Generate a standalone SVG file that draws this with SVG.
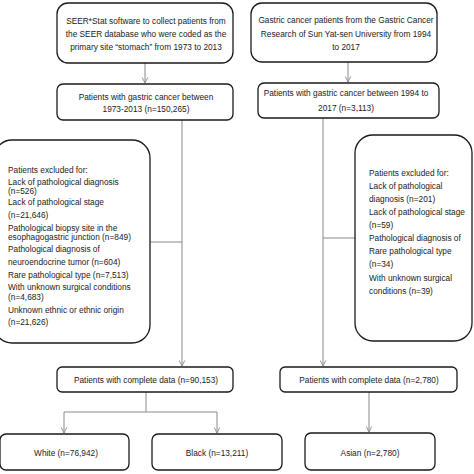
<svg xmlns="http://www.w3.org/2000/svg" width="474" height="474" viewBox="0 0 474 474">
<style>
.box{fill:#fff;stroke:#1a1a1a;stroke-width:1.3}
.con{fill:none;stroke:#8a8a8a;stroke-width:1}
text{font-family:"Liberation Sans",Arial,sans-serif;font-size:8.3px;fill:#222}
.c{text-anchor:middle}
</style>
<defs>
<marker id="arr" viewBox="0 0 10 10" refX="9" refY="5" markerWidth="7" markerHeight="7" orient="auto" markerUnits="userSpaceOnUse">
<path d="M1,1 L9,5 L1,9" fill="none" stroke="#8a8a8a" stroke-width="1.3"/>
</marker>
</defs>
<rect width="474" height="474" fill="#fff"/>
<g id="connectors">
<path class="con" d="M145,63 V83" marker-end="url(#arr)"/>
<path class="con" d="M348,62 V82" marker-end="url(#arr)"/>
<path class="con" d="M182,120 V366" marker-end="url(#arr)"/>
<path class="con" d="M150,242 H182"/>
<path class="con" d="M323,118 V366" marker-end="url(#arr)"/>
<path class="con" d="M323,238 H355"/>
<path class="con" d="M146,392 V412 M64,412 H217"/>
<path class="con" d="M64,412 V433" marker-end="url(#arr)"/>
<path class="con" d="M217,412 V433" marker-end="url(#arr)"/>
<path class="con" d="M369,392 V432" marker-end="url(#arr)"/>
</g>
<g id="seer-source">
<rect class="box" x="57" y="3" width="176" height="60" rx="11"/>
<text class="c" x="146" y="24">SEER*Stat software to collect patients from</text>
<text class="c" x="146" y="37">the SEER database who were coded as the</text>
<text class="c" x="146" y="50">primary site “stomach” from 1973 to 2013</text>
</g>
<g id="sysu-source">
<rect class="box" x="251" y="3" width="186" height="59" rx="11"/>
<text class="c" x="346" y="23">Gastric cancer patients from the Gastric Cancer</text>
<text class="c" x="346" y="37">Research of Sun Yat-sen University from 1994</text>
<text class="c" x="346" y="50">to 2017</text>
</g>
<g id="seer-gastric">
<rect class="box" x="57" y="84" width="176" height="36" rx="6"/>
<text class="c" x="146" y="100">Patients with gastric cancer between</text>
<text class="c" x="146" y="112">1973-2013 (n=150,265)</text>
</g>
<g id="sysu-gastric">
<rect class="box" x="258" y="83" width="181" height="35" rx="6"/>
<text class="c" x="346" y="96">Patients with gastric cancer between 1994 to</text>
<text class="c" x="346" y="111">2017 (n=3,113)</text>
</g>
<g id="seer-excluded">
<rect class="box" x="-6" y="140" width="156" height="203" rx="18"/>
<text x="8" y="173">Patients excluded for:</text>
<text x="8" y="185">Lack of pathological diagnosis</text>
<text x="8" y="194">(n=526)</text>
<text x="8" y="205">Lack of pathological stage</text>
<text x="8" y="218">(n=21,646)</text>
<text x="8" y="231">Pathological biopsy site in the</text>
<text x="8" y="240">esophagogastric junction (n=849)</text>
<text x="8" y="252">Pathological diagnosis of</text>
<text x="8" y="265">neuroendocrine tumor (n=604)</text>
<text x="8" y="278">Rare pathological type (n=7,513)</text>
<text x="8" y="290">With unknown surgical conditions</text>
<text x="8" y="300">(n=4,683)</text>
<text x="8" y="313">Unknown ethnic or ethnic origin</text>
<text x="8" y="325">(n=21,626)</text>
</g>
<g id="sysu-excluded">
<rect class="box" x="355" y="135" width="117" height="206" rx="18"/>
<text x="369" y="176">Patients excluded for:</text>
<text x="369" y="189">Lack of pathological</text>
<text x="369" y="202">diagnosis (n=201)</text>
<text x="369" y="215">Lack of pathological stage</text>
<text x="369" y="228">(n=59)</text>
<text x="369" y="241">Pathological diagnosis of</text>
<text x="369" y="254">Rare pathological type</text>
<text x="369" y="267">(n=34)</text>
<text x="369" y="281">With unknown surgical</text>
<text x="369" y="294">conditions (n=39)</text>
</g>
<g id="seer-complete">
<rect class="box" x="57" y="367" width="176" height="25" rx="5"/>
<text class="c" x="146" y="383">Patients with complete data (n=90,153)</text>
</g>
<g id="sysu-complete">
<rect class="box" x="280" y="367" width="177" height="25" rx="5"/>
<text class="c" x="369" y="383">Patients with complete data (n=2,780)</text>
</g>
<g id="white">
<rect class="box" x="0" y="434" width="129" height="36" rx="6"/>
<text class="c" x="66" y="456">White (n=76,942)</text>
</g>
<g id="black">
<rect class="box" x="152" y="434" width="130" height="36" rx="6"/>
<text class="c" x="217" y="456">Black (n=13,211)</text>
</g>
<g id="asian">
<rect class="box" x="305" y="433" width="130" height="37" rx="6"/>
<text class="c" x="370" y="456">Asian (n=2,780)</text>
</g>
</svg>
